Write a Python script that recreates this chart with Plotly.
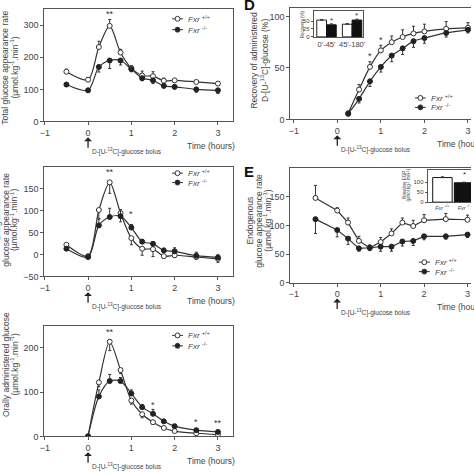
import plotly.graph_objects as go

# ==============================
# DATA
# ==============================
t_all = [-0.5, 0, 0.25, 0.5, 0.75, 1, 1.25, 1.5, 1.75, 2, 2.5, 3]
t_oral = [0, 0.25, 0.5, 0.75, 1, 1.25, 1.5, 1.75, 2, 2.5, 3]
t_rec = [0.25, 0.5, 0.75, 1, 1.25, 1.5, 1.75, 2, 2.5, 3]

# A - total glucose appearance rate
a_wt = [155, 130, 232, 298, 215, 166, 143, 141, 127, 128, 123, 118]
a_wt_sem = [8, 7, 18, 20, 10, 8, 14, 14, 8, 5, 5, 6]
a_ko = [115, 97, 170, 190, 190, 163, 135, 128, 111, 108, 100, 97]
a_ko_sem = [6, 5, 16, 25, 14, 8, 8, 10, 7, 7, 9, 10]
a_star_x = [0.5]
a_star_y = [335]
a_star = ["**"]

# B - appearance rate of the oral glucose
b_wt = [22, -4, 101, 164, 94, 37, 13, 12, -4, -2, -6, -10]
b_wt_sem = [2, 3, 20, 25, 20, 15, 15, 17, 5, 5, 5, 8]
b_ko = [13, -6, 66, 85, 87, 61, 29, 24, 9, 7, -3, -7]
b_ko_sem = [2, 2, 15, 20, 15, 7, 5, 5, 5, 8, 8, 6]
b_star_x = [0.5, 1]
b_star_y = [188, 92]
b_star = ["**", "*"]

# C - orally administered glucose
c_wt = [0, 122, 214, 150, 81, 50, 32, 19, 12, 7, 4]
c_wt_sem = [0, 10, 20, 8, 8, 8, 5, 3, 2, 2, 2]
c_ko = [0, 90, 125, 125, 97, 66, 51, 34, 23, 14, 10]
c_ko_sem = [0, 15, 15, 8, 8, 6, 10, 4, 3, 3, 2]
c_star_x = [0.5, 1.5, 2.5, 3]
c_star_y = [236, 70, 32, 30]
c_star = ["**", "*", "*", "**"]

# D - recovery of administered glucose (%)
d_wt = [6, 29, 51, 67, 75, 80, 83.5, 85.5, 88, 89]
d_wt_sem = [2, 5, 5, 5, 6, 7, 7, 7, 7, 5]
d_ko = [5.5, 20, 37, 51, 62, 69, 76, 79, 84, 87]
d_ko_sem = [2, 4, 5, 5, 6, 6, 6, 5, 4, 3]
d_star_x = [0.75, 1]
d_star_y = [62, 77]
d_star = ["*", "*"]

# D inset - recovery per period
rec_periods = ["0'-45'", "45'-180'"]
rec_wt = [53, 40]
rec_wt_sem = [2, 2]
rec_ko = [38, 53]
rec_ko_sem = [3, 3]

# E - endogenous glucose appearance rate
e_wt = [148, 126, 105, 73, 61, 71, 86, 105, 99, 109, 111, 110]
e_wt_sem = [22, 5, 8, 8, 5, 8, 8, 8, 10, 10, 10, 8]
e_ko = [111, 92, 77, 60, 61, 63, 63, 72, 73, 81, 81, 84]
e_ko_sem = [25, 12, 10, 5, 5, 8, 8, 8, 8, 6, 5, 5]

# E inset - baseline EGP
egp_groups = ["<i>Fxr</i><sup> +/+</sup>", "<i>Fxr</i><sup> -/-</sup>"]
egp = [123, 97]
egp_sem = [4, 3]

# ==============================
# STYLE
# ==============================
W = H = 474
AX = "#555555"
TXT = "#444444"
LINE = "#333333"
FONT = "Liberation Sans"
WT_NAME = "<i>Fxr</i> <sup>+/+</sup>"
KO_NAME = "<i>Fxr</i> <sup>-/-</sup>"


def px(x):
    return x / W


def py(y):
    return 1 - y / H


fig = go.Figure()
annotations = []
shapes = []


def note(**kw):
    kw.setdefault("xanchor", "center")
    kw.setdefault("yanchor", "middle")
    kw.setdefault("showarrow", False)
    annotations.append(kw)


def sem_bars(vals, up):
    zeros = [0] * len(vals)
    return dict(type="data", symmetric=False,
                array=vals if up else zeros,
                arrayminus=zeros if up else vals,
                thickness=1, width=1.5, color=LINE)


def add_axes(n, xdom, ydom, xrange, yrange, yticks, box_right=True):
    sfx = "" if n == 1 else str(n)
    common = dict(showline=True, linecolor=AX, linewidth=1, ticks="outside",
                  ticklen=3, tickcolor=AX, tickfont=dict(size=9, color=TXT),
                  showgrid=False, zeroline=False)
    fig.update_layout(**{
        f"xaxis{sfx}": dict(domain=xdom, range=xrange, tickvals=[-1, 0, 1, 2, 3],
                            anchor=f"y{sfx}", mirror=True, **common),
        f"yaxis{sfx}": dict(domain=ydom, range=yrange, tickvals=yticks,
                            anchor=f"x{sfx}", mirror=box_right, **common),
    })


def add_pair(n, t, wt, wt_sem, ko, ko_sem, wt_up, shape="spline"):
    sfx = "" if n == 1 else str(n)
    fig.add_trace(go.Scatter(
        x=t, y=wt, xaxis=f"x{sfx}", yaxis=f"y{sfx}", mode="lines+markers",
        line=dict(color=LINE, width=1.2, shape=shape, smoothing=0.8),
        marker=dict(symbol="circle", size=5, color="white", line=dict(color=LINE, width=1)),
        error_y=sem_bars(wt_sem, wt_up), name=WT_NAME, showlegend=False))
    fig.add_trace(go.Scatter(
        x=t, y=ko, xaxis=f"x{sfx}", yaxis=f"y{sfx}", mode="lines+markers",
        line=dict(color=LINE, width=1.2, shape=shape, smoothing=0.8),
        marker=dict(symbol="circle", size=5, color="#222222", line=dict(color="#222222", width=1)),
        error_y=sem_bars(ko_sem, not wt_up), name=KO_NAME, showlegend=False))


def add_stars(n, xs, ys, txt):
    sfx = "" if n == 1 else str(n)
    for x, y, s in zip(xs, ys, txt):
        note(x=x, y=y, xref=f"x{sfx}", yref=f"y{sfx}", text=s, font=dict(size=9, color=LINE))


def add_key(x0, y_wt, y_ko):
    # small hand drawn legend: -o- Fxr+/+ / -*- Fxr-/-
    for y, fill, label in [(y_wt, "white", WT_NAME), (y_ko, "#222222", KO_NAME)]:
        shapes.append(dict(type="line", xref="paper", yref="paper",
                           x0=px(x0), x1=px(x0 + 11), y0=py(y), y1=py(y),
                           line=dict(color=LINE, width=1)))
        shapes.append(dict(type="circle", xref="paper", yref="paper",
                           x0=px(x0 + 3), x1=px(x0 + 8), y0=py(y + 2.5), y1=py(y - 2.5),
                           fillcolor=fill, line=dict(color=LINE, width=1)))
        note(x=px(x0 + 14), y=py(y), xref="paper", yref="paper", xanchor="left",
             text=label, font=dict(size=8, color=TXT))


def add_time_notes(n, axis_px, time_x_px):
    sfx = "" if n == 1 else str(n)
    annotations.append(dict(x=0, y=py(axis_px + 16), xref=f"x{sfx}", yref="paper",
                            text="", showarrow=True, arrowhead=1, arrowsize=1,
                            arrowwidth=1.3, arrowcolor="#222222", ax=0, ay=12))
    note(x=0, y=py(axis_px + 30), xref=f"x{sfx}", yref="paper", xanchor="left", xshift=2,
         text="D-[U-<sup>13</sup>C]-glucose bolus", font=dict(size=6.5, color=TXT))
    note(x=px(time_x_px), y=py(axis_px + 25), xref="paper", yref="paper", xanchor="left",
         text="Time (hours)", font=dict(size=8.5, color=TXT))


def add_ytitle(lines, xs, yc, size=8.5):
    for text, x in zip(lines, xs):
        note(x=px(x), y=py(yc), xref="paper", yref="paper", text=text, textangle=-90,
             font=dict(size=size, color=TXT))


UNITS = "(µmol.kg<sup>-1</sup>.min<sup>-1</sup>)"

# ==============================
# PANELS
# ==============================
left_x = [px(40), px(232)]
right_x = [px(290.3), 1.0]

# A
add_axes(1, left_x, [py(122.7), py(9.3)], [-1.01, 3.35], [0, 350], [0, 100, 200, 300])
add_pair(1, t_all, a_wt, a_wt_sem, a_ko, a_ko_sem, wt_up=True)
add_stars(1, a_star_x, a_star_y, a_star)
add_key(170, 19, 30)
add_time_notes(1, 122.7, 183)
add_ytitle(["Total glucose appearance rate", UNITS], [0.5, 9.5], 68)

# B
add_axes(2, left_x, [py(279.3), py(168.3)], [-1.01, 3.35], [-50, 200], [-50, 0, 50, 100, 150])
add_pair(2, t_all, b_wt, b_wt_sem, b_ko, b_ko_sem, wt_up=False)
add_stars(2, b_star_x, b_star_y, b_star)
add_key(170, 175, 184.5)
add_time_notes(2, 279.3, 183)
add_ytitle(["Exogenous", "glucose appearance rate", UNITS], [-8, 1, 9.5], 222)

# C
add_axes(3, left_x, [py(441), py(329.3)], [-1.01, 3.35], [0, 250], [0, 100, 200])
add_pair(3, t_oral, c_wt, c_wt_sem, c_ko, c_ko_sem, wt_up=False)
add_stars(3, c_star_x, c_star_y, c_star)
add_key(170, 339, 349.5)
add_time_notes(3, 441, 183)
add_ytitle(["Orally administered glucose", UNITS], [1, 9.5], 368)

# D
add_axes(4, right_x, [py(120.7), py(8.3)], [-1.077, 3.07], [0, 108], [0, 50, 100], box_right=False)
add_pair(4, t_rec, d_wt, d_wt_sem, d_ko, d_ko_sem, wt_up=True)
add_stars(4, d_star_x, d_star_y, d_star)
add_key(417, 99, 108.5)
add_time_notes(4, 120.7, 437)
add_ytitle(["Recovery of administered", "D-[U-<sup>13</sup>C]-glucose (%)"], [253.5, 264], 61)

# E
add_axes(5, right_x, [py(285.7), py(170)], [-1.077, 3.08], [0, 200], [0, 50, 100, 150], box_right=False)
add_pair(5, t_all, e_wt, e_wt_sem, e_ko, e_ko_sem, wt_up=True, shape="linear")
add_key(421, 265, 274.5)
add_time_notes(5, 285.7, 437)
add_ytitle(["Endogenous", "glucose appearance rate", UNITS], [249, 258.5, 267.5], 223)

# panel letters (A-C are cropped off on the left)
for letter, y in [("D", 5), ("E", 173)]:
    note(x=px(241), y=py(y), xref="paper", yref="paper", xanchor="left",
         text=f"<b>{letter}</b>", font=dict(size=15, color="#111111"))

# ==============================
# INSETS
# ==============================
small = dict(showline=True, linecolor=AX, linewidth=1, showgrid=False, zeroline=False)

# D inset: recovery per period
fig.add_trace(go.Bar(x=rec_periods, y=rec_wt, xaxis="x6", yaxis="y6", width=0.38, offset=-0.38,
                     marker=dict(color="white", line=dict(color="#222222", width=1)),
                     error_y=dict(type="data", array=rec_wt_sem, arrayminus=[0, 0], symmetric=False,
                                  thickness=1, width=1.5, color=LINE),
                     showlegend=False))
fig.add_trace(go.Bar(x=rec_periods, y=rec_ko, xaxis="x6", yaxis="y6", width=0.38, offset=0,
                     marker=dict(color="#111111", line=dict(color="#111111", width=1)),
                     error_y=dict(type="data", array=rec_ko_sem, arrayminus=[0, 0], symmetric=False,
                                  thickness=1, width=1.5, color=LINE),
                     showlegend=False))
fig.update_layout(
    xaxis6=dict(domain=[px(314), px(364)], range=[-0.5, 1.42], anchor="y6", mirror=True,
                ticks="", tickangle=0, tickfont=dict(size=7.5, color=TXT), **small),
    yaxis6=dict(domain=[py(37.3), py(11)], range=[0, 82], tickvals=[0, 25, 50], anchor="x6",
                mirror=True, ticks="outside", ticklen=2, tickcolor=AX,
                tickfont=dict(size=6, color=TXT), **small),
)
for x, y in zip([0.19, 1.19], [rec_ko[0] + 14, rec_ko[1] + 14]):
    note(x=x, y=y, xref="x6", yref="y6", text="*", font=dict(size=8, color=LINE))
add_ytitle(["Recovery (%)"], [302.5], 24, size=4.5)

# E inset: baseline EGP
fig.add_trace(go.Bar(x=egp_groups, y=egp, xaxis="x7", yaxis="y7", width=0.9,
                     marker=dict(color=["white", "#111111"], line=dict(color="#111111", width=1)),
                     error_y=dict(type="data", array=egp_sem, arrayminus=[0, 0], symmetric=False,
                                  thickness=1, width=1.5, color=LINE),
                     showlegend=False))
fig.update_layout(
    xaxis7=dict(domain=[px(430), 1.0], range=[-0.68, 1.32], anchor="y7", mirror=True,
                ticks="", tickangle=0, tickfont=dict(size=5.5, color=TXT), **small),
    yaxis7=dict(domain=[py(204.3), py(172)], range=[0, 160], tickvals=[0, 50, 100], anchor="x7",
                ticks="outside", ticklen=2, tickcolor=AX,
                tickfont=dict(size=6, color=TXT), **small),
)
note(x=1, y=egp[0] + 14, xref="x7", yref="y7", text="*", font=dict(size=8, color=LINE))
add_ytitle(["Baseline EGP", UNITS], [405.5, 410.5], 187, size=4.5)

# ==============================
# LAYOUT
# ==============================
fig.update_layout(
    width=W, height=H,
    margin=dict(l=0, r=0, t=0, b=0),
    paper_bgcolor="white", plot_bgcolor="white",
    font=dict(family=FONT, color=TXT),
    showlegend=False,
    hovermode=False,
    barmode="overlay",
    annotations=annotations,
    shapes=shapes,
)

# the page's default 8px body margin would shift the whole figure
fig.write_html(
    "out.html",
    config={"displayModeBar": False, "staticPlot": True},
    post_script="document.body.style.margin = '0'; document.body.style.overflow = 'hidden';",
)
